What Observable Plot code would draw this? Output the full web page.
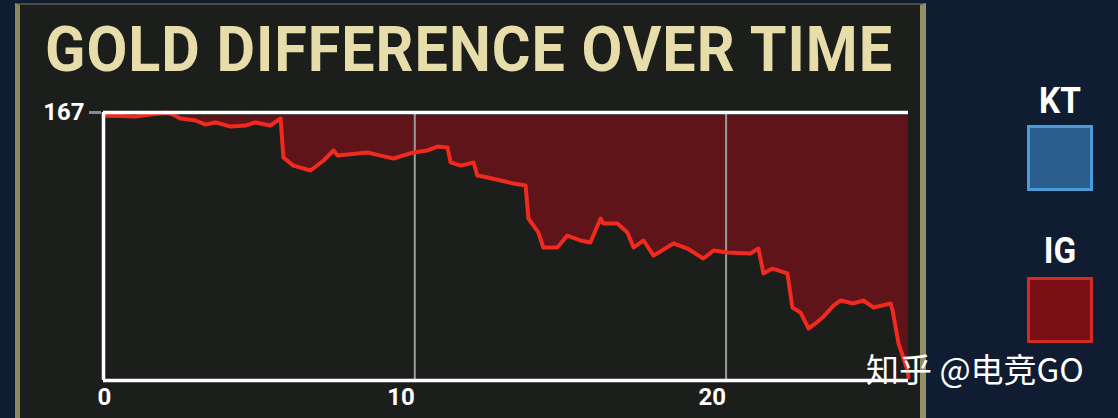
<!DOCTYPE html>
<html>
<head>
<meta charset="utf-8">
<script src="https://cdn.jsdelivr.net/npm/d3@7"></script>
<script src="https://cdn.jsdelivr.net/npm/@observablehq/plot@0.6"></script>
<style>
  html, body { margin: 0; padding: 0; }
  body { width: 1118px; height: 418px; background: #0f1c31; position: relative; overflow: hidden; font-family: Roboto, "DejaVu Sans", sans-serif; }
  #panel { position: absolute; left: 15px; top: 3px; width: 911px; height: 430px; background: #1c1e1c;
           border-left: 5px solid #8c875f; border-right: 6px solid #958f66; border-top: 2px solid #4d4d44; box-sizing: border-box; }
  #title { position: absolute; left: 45px; top: 18px; font-size: 63px; line-height: 1; font-weight: 700; color: #e7ddaa;
           white-space: nowrap; transform-origin: 0 0; letter-spacing: 1px; }
  #chart { position: absolute; left: 20px; top: 95px; }
  .lg-label { position: absolute; width: 66px; left: 1027px; text-align: center; color: #fff; font-weight: 700; font-size: 37px; line-height: 1; transform: scaleX(0.9); }
  .lg-box { position: absolute; left: 1027px; width: 66px; height: 66px; box-sizing: border-box; border: 3px solid; }
  #wm { position: absolute; left: 866px; top: 352px; font-family: "Noto Sans CJK SC", sans-serif; font-size: 33px; line-height: 1; color: #fff; white-space: nowrap; }
</style>
</head>
<body>
<div id="panel"></div>
<div id="title">GOLD DIFFERENCE OVER TIME</div>
<div id="chart"></div>
<div class="lg-label" id="lgKT" style="top:82px">KT</div>
<div class="lg-box" id="boxKT" style="top:125px"></div>
<div class="lg-label" id="lgIG" style="top:232px">IG</div>
<div class="lg-box" id="boxIG" style="top:277px"></div>
<div id="wm">知乎 @电竞GO</div>
<script>
// Team names and colours
const teams = ["KT", "IG"];
const teamFill = ["#2a5e8e", "#7a1016"];
const teamBorder = ["#4b9bd8", "#d42a26"];

// Game minute
const minutes = [0,0.55,1.03,1.5,2.06,2.3,2.47,2.96,3.28,3.6,4.08,4.56,4.88,5.36,5.69,5.78,6.1,6.65,7.07,7.39,7.52,8.16,8.48,8.9,9.32,9.96,10.41,10.73,11.05,11.15,11.47,11.89,12.01,12.34,13.17,13.56,13.65,13.97,14.13,14.58,14.9,15.32,15.64,15.97,16.06,16.51,16.83,17.03,17.35,17.67,18.31,18.76,19.27,19.6,20.04,20.78,21.04,21.2,21.49,21.97,22.13,22.39,22.65,22.87,23.1,23.45,23.68,24.09,24.41,24.74,25.28,25.35,25.54,25.83,25.86];
// Gold difference (KT minus IG)
const gold = [0,-10,-40,60,167,0,-140,-240,-450,-340,-550,-500,-340,-500,-140,-2130,-2540,-2790,-2280,-1770,-2030,-1920,-1870,-2030,-2180,-1870,-1770,-1570,-1620,-2380,-2540,-2380,-3050,-3150,-3450,-3560,-5240,-5950,-6720,-6720,-6110,-6360,-6460,-5240,-5490,-5490,-5950,-6720,-6360,-7130,-6510,-6770,-7280,-6870,-6970,-7020,-6770,-8040,-7790,-8040,-9780,-10030,-10850,-10590,-10290,-9680,-9420,-9570,-9420,-9780,-9570,-9930,-11610,-12990,-13350];

const xTicks = [0, 10, 20];
const yTicks = [167];
const xDomain = [0, 25.86];
const yDomain = [-13500, 167];

const data = minutes.map((m, i) => ({m, g: gold[i]}));

// legend colours
document.getElementById("boxKT").style.background = teamFill[0];
document.getElementById("boxKT").style.borderColor = teamBorder[0];
document.getElementById("boxIG").style.background = teamFill[1];
document.getElementById("boxIG").style.borderColor = teamBorder[1];
document.getElementById("lgKT").textContent = teams[0];
document.getElementById("lgIG").textContent = teams[1];

// fit title width
const t = document.getElementById("title");
const w = t.getBoundingClientRect().width;
t.style.transform = `scaleX(${848 / w})`;

const axisText = {tickSize: 0, tickPadding: 7, fill: "white", fontSize: 24, fontWeight: "bold", label: null};

const chart = Plot.plot({
  width: 900,
  height: 323,
  marginLeft: 83,
  marginRight: 12,
  marginTop: 17,
  marginBottom: 38,
  style: {background: "transparent", color: "white", overflow: "visible", fontFamily: "Roboto, 'DejaVu Sans', sans-serif"},
  x: {domain: xDomain},
  y: {domain: yDomain},
  marks: [
    Plot.areaY(data, {x: "m", y1: 0, y2: d => Math.min(d.g, 0), fill: "#5e1419"}),
    Plot.areaY(data, {x: "m", y1: 0, y2: d => Math.max(d.g, 0), fill: "#3b82c4"}),
    Plot.ruleX(xTicks.filter(d => d > 0), {stroke: "#9a9a9a", strokeWidth: 2}),
    Plot.lineY(data, {x: "m", y: "g", stroke: "#f02a1f", strokeWidth: 4, strokeLinejoin: "round"}),
    Plot.ruleY([yDomain[1]], {stroke: "white", strokeWidth: 3.5}),
    Plot.ruleY([yDomain[0]], {stroke: "white", strokeWidth: 3.5}),
    Plot.ruleX([xDomain[0]], {stroke: "white", strokeWidth: 3.5}),
    Plot.axisY({ticks: yTicks, tickSize: 12, tickPadding: 5, stroke: "#8a8a8a", strokeWidth: 3, fill: "white",
                fontSize: 24, fontWeight: "bold", label: null, dx: -2}),
    Plot.axisX({...axisText, ticks: xTicks.filter(d => d === 0), textAnchor: "middle", dx: 1}),
    Plot.axisX({...axisText, ticks: xTicks.filter(d => d > 0), textAnchor: "end", dx: 0})
  ]
});
document.getElementById("chart").appendChild(chart);
</script>
</body>
</html>
